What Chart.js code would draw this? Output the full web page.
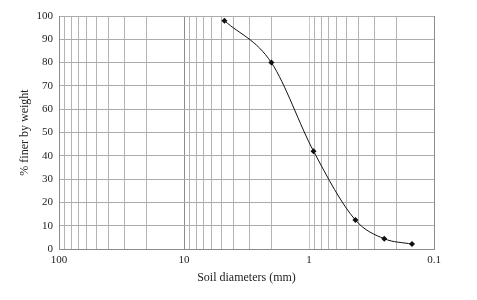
<!DOCTYPE html>
<html>
<head>
<meta charset="utf-8">
<script src="https://cdn.jsdelivr.net/npm/chart.js@4/dist/chart.umd.min.js"></script>
<style>
  html, body { margin: 0; padding: 0; background: #fff; }
  #wrap { width: 477px; height: 300px; }
</style>
</head>
<body>
<div id="wrap"><canvas id="grading"></canvas></div>
<script>
// sieve results
var diameters = [4.75, 2.0, 0.92, 0.425, 0.25, 0.15];
var percentFiner = [98, 80, 42, 12.4, 4.4, 2.1];

// log grid: every 1..9 step in each decade, labels only on the decades
var decades = [100, 10, 1, 0.1];
var gridValues = [];
for (var d = 0; d < 3; d++) {
    for (var k = 10; k >= 1; k--) {
        var v = parseFloat((decades[d] * k / 10).toPrecision(3));
        if (gridValues.indexOf(v) < 0) gridValues.push(v);
    }
}

var yTicks = [0, 10, 20, 30, 40, 50, 60, 70, 80, 90, 100];

function isDecade(v) {
    return decades.some(function (p) { return Math.abs(v - p) < 1e-9; });
}

var points = diameters.map(function (d, i) { return {x: d, y: percentFiner[i]}; });

var serif = "'Liberation Serif', 'DejaVu Serif', serif";

new Chart(document.getElementById('grading'), {
    type: 'line',
    data: {
        datasets: [{
            data: points,
            borderColor: '#111',
            backgroundColor: '#111',
            borderWidth: 1,
            cubicInterpolationMode: 'monotone',
            pointStyle: 'rectRot',
            pointRadius: 3,
            pointBorderWidth: 0,
            fill: false
        }]
    },
    options: {
        responsive: true,
        maintainAspectRatio: false,
        animation: false,
        layout: {padding: {left: 18, right: 43, top: 16, bottom: 15}},
        plugins: {legend: {display: false}, tooltip: {enabled: false}},
        scales: {
            x: {
                type: 'logarithmic',
                min: 0.1,
                max: 100,
                reverse: true,
                afterBuildTicks: function (scale) {
                    scale.ticks = gridValues.map(function (v) { return {value: v}; });
                },
                afterFit: function (scale) { scale.height = 36; },
                ticks: {
                    autoSkip: false,
                    maxRotation: 0,
                    padding: 5,
                    color: '#222',
                    font: {family: serif, size: 11},
                    callback: function (value) {
                        return isDecade(value) ? String(value) : '';
                    }
                },
                grid: {
                    drawTicks: false,
                    color: function (ctx) {
                        var v = ctx.tick && ctx.tick.value;
                        if (v === 1) return '#c8c8c8';
                        return isDecade(v) ? '#8c8c8c' : '#b4b4b4';
                    }
                },
                border: {color: '#8c8c8c', width: 1},
                title: {
                    display: true,
                    text: 'Soil diameters (mm)',
                    color: '#222',
                    font: {family: serif, size: 12},
                    padding: 0
                }
            },
            y: {
                min: 0,
                max: 100,
                afterBuildTicks: function (scale) {
                    scale.ticks = yTicks.map(function (v) { return {value: v}; });
                },
                afterFit: function (scale) { scale.width = 41; },
                ticks: {
                    padding: 6,
                    color: '#222',
                    font: {family: serif, size: 11}
                },
                grid: {drawTicks: false, color: '#acacac'},
                border: {color: '#8c8c8c', width: 1},
                title: {
                    display: true,
                    text: '% finer by weight',
                    color: '#222',
                    font: {family: serif, size: 12},
                    padding: 0
                }
            }
        }
    }
});
</script>
</body>
</html>
